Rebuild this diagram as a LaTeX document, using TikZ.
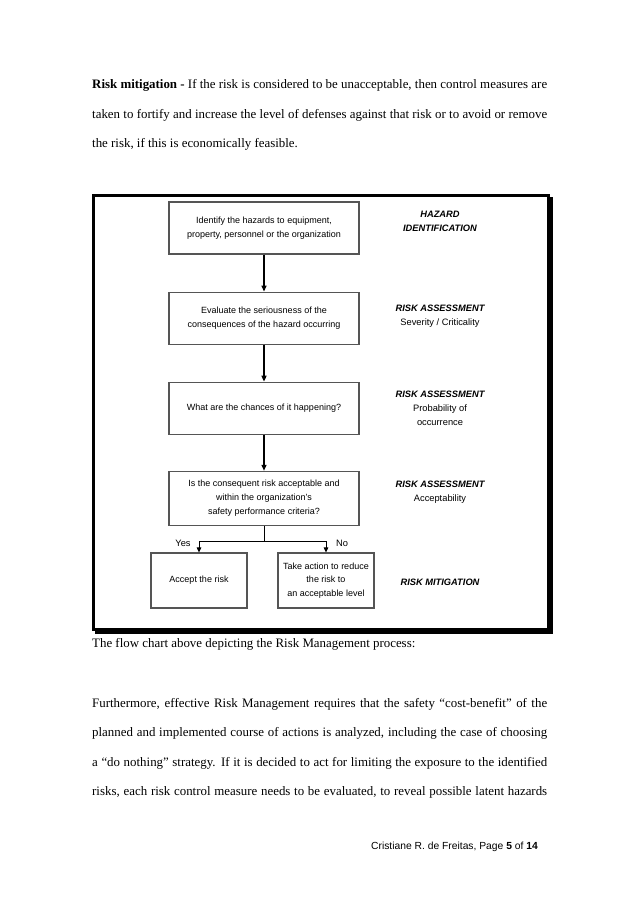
\documentclass[tikz,border=0pt]{standalone}
\usepackage{fontspec}
\setmainfont{Liberation Serif}
\setsansfont{Liberation Sans}
\usetikzlibrary{arrows.meta,positioning}
\definecolor{boxline}{HTML}{555555}
\definecolor{shade}{HTML}{9A9A9A}
\newcommand{\jline}[1]{\makebox[455pt][s]{#1}}
\tikzset{
  body/.style   = {anchor=base west, inner sep=0pt, font=\fontsize{12.9}{15}\selectfont},
  fbox/.style   = {draw=boxline, line width=1.1pt, fill=white, align=center,
                   minimum width=190pt, minimum height=52pt, inner sep=2pt,
                   font=\sffamily\fontsize{9}{13.8}\selectfont},
  sbox/.style   = {fbox, minimum width=96pt, minimum height=55pt},
  stage/.style  = {align=center, inner sep=0pt,
                   font=\sffamily\fontsize{9.3}{13.8}\selectfont\bfseries\itshape},
  yn/.style     = {inner sep=0pt, font=\sffamily\fontsize{9.3}{11}\selectfont},
  ar/.style     = {-{Triangle[length=6pt,width=5pt]}, line width=1.4pt},
  ar2/.style    = {-{Triangle[length=5pt,width=4.5pt]}, line width=0.9pt},
}

\begin{document}
\begin{tikzpicture}[x=1pt,y=-1pt]
  \useasboundingbox[fill=white] (0,0) rectangle (638,902);

  % paragraph above the chart
  \node[body] (p1) at (92,88.5) {\jline{\textbf{Risk mitigation -} If the risk is considered to be unacceptable, then control measures are}};
  \node[body] (p2) at (92,118) {\jline{taken to fortify and increase the level of defenses against that risk or to avoid or remove}};
  \node[body] (p3) at (92,147.5) {the risk, if this is economically feasible.};

  % chart frame with its shadow
  \draw[shade, line width=3pt] (96,198) rectangle (551,632);
  \node[draw, line width=3pt, fill=white, minimum width=455pt, minimum height=434pt,
        inner sep=0pt] (chart) at (320.5,412) {};

  % steps
  \node[fbox] (ident) at (264,228) {Identify the hazards to equipment,\\property, personnel or the organization};
  \node[fbox, below=37pt of ident] (evalu) {Evaluate the seriousness of the\\consequences of the hazard occurring};
  \node[fbox, below=37pt of evalu] (chance) {What are the chances of it happening?};
  \node[fbox, below=36pt of chance, minimum height=54pt] (accept) {Is the consequent risk acceptable and\\within the organization's\\safety performance criteria?};
  \node[sbox] (yesbox) at (199,580.5) {Accept the risk};
  \node[sbox] (nobox) at (326,580.5) {Take action to reduce\\the risk to\\an acceptable level};

  % stage labels
  \node[stage] (s1) at (440,221) {HAZARD\\IDENTIFICATION};
  \node[stage] (s2) at (440,316.5) {RISK ASSESSMENT\\{\mdseries\upshape Severity / Criticality}};
  \node[stage] (s3) at (440,408) {RISK ASSESSMENT\\{\mdseries\upshape Probability of}\\{\mdseries\upshape occurrence}};
  \node[stage] (s4) at (440,492.5) {RISK ASSESSMENT\\{\mdseries\upshape Acceptability}};
  \node[stage] (s5) at (440,582) {RISK MITIGATION};

  % connectors
  \draw[ar] (ident) -- (evalu);
  \draw[ar] (evalu) -- (chance);
  \draw[ar] (chance) -- (accept);
  \coordinate (split) at (264,541);
  \draw[line width=0.9pt] (accept) -- (split);
  \draw[ar2] (split) -| (yesbox);
  \draw[ar2] (split) -| (nobox);
  \node[yn] (yes) at (183,543) {Yes};
  \node[yn] (no) at (342,543) {No};

  % text below the chart
  \node[body] (cap) at (92,647) {The flow chart above depicting the Risk Management process:};
  \node[body] (q1) at (92,707) {\jline{Furthermore, effective Risk Management requires that the safety ``cost-benefit'' of the}};
  \node[body] (q2) at (92,736.5) {\jline{planned and implemented course of actions is analyzed, including the case of choosing}};
  \node[body] (q3) at (92,766) {\jline{a ``do nothing'' strategy. If it is decided to act for limiting the exposure to the identified}};
  \node[body] (q4) at (92,795.5) {\jline{risks, each risk control measure needs to be evaluated, to reveal possible latent hazards}};

  % footer
  \node[anchor=base east, inner sep=0pt, font=\sffamily\fontsize{10.3}{12}\selectfont] (foot) at (538,849)
    {Cristiane R. de Freitas, Page \textbf{5} of \textbf{14}};
\end{tikzpicture}
\end{document}
